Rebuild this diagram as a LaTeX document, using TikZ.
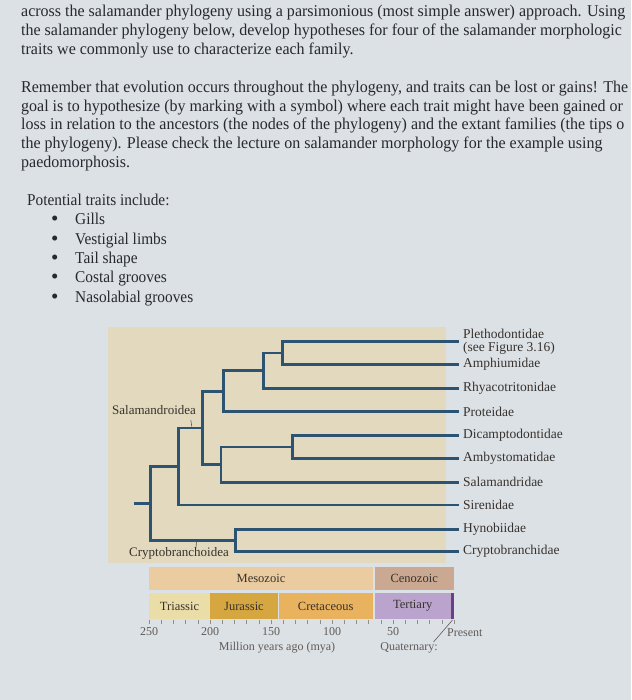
\documentclass[tikz,border=0pt]{standalone}
\usepackage{fontspec}
\setmainfont{Liberation Serif}
\newfontfamily\parafont[FakeStretch=0.97]{Liberation Serif}
\newfontfamily\listfont[FakeStretch=0.93]{Liberation Serif}
\usetikzlibrary{positioning}
\definecolor{pagebg}{RGB}{220,225,230}
\definecolor{ink}{RGB}{40,40,48}
\definecolor{tanbg}{RGB}{226,217,190}
\definecolor{branchblue}{RGB}{44,84,114}
\definecolor{labink}{RGB}{55,50,45}
\definecolor{mesoc}{RGB}{234,204,160}
\definecolor{cenoc}{RGB}{203,168,145}
\definecolor{triac}{RGB}{234,221,168}
\definecolor{jurac}{RGB}{214,166,64}
\definecolor{cretc}{RGB}{233,178,94}
\definecolor{tertc}{RGB}{186,164,206}
\definecolor{quatc}{RGB}{105,62,135}

\begin{document}
\begin{tikzpicture}[x=1pt, y=-1pt,
  paraline/.style={anchor=base west, inner sep=0, text=ink,
                   font=\parafont\fontsize{16.5}{19}\selectfont},
  listline/.style={anchor=base west, inner sep=0, text=ink,
                   font=\listfont\fontsize{16.5}{19}\selectfont},
  taxon/.style={anchor=west, inner sep=0, outer xsep=5pt, align=left, text=labink,
                font=\fontsize{13.5}{13}\selectfont},
  clade/.style={anchor=base west, inner sep=0, text=labink, font=\fontsize{13}{13}\selectfont},
  era/.style={inner sep=0, text=labink, font=\fontsize{12.5}{13}\selectfont},
  tick/.style={inner sep=0, text=labink!80, font=\fontsize{12}{12}\selectfont},
  branch/.style={draw=branchblue, line width=2.8pt, line cap=rect},
  pointer/.style={draw=labink!80, line width=0.6pt},
]
\useasboundingbox (0,0) rectangle (631,700);
\clip (0,0) rectangle (631,700);
\fill[pagebg] (0,0) rectangle (631,700);

% Instructions
\node[paraline] (p1) at (21,16.2) {across the salamander phylogeny using a parsimonious (most simple answer) approach. Using};
\node[paraline] (p2) at (21,35.3) {the salamander phylogeny below, develop hypotheses for four of the salamander morphologic};
\node[paraline] (p3) at (21,54.5) {traits we commonly use to characterize each family.};

\node[paraline] (q1) at (21,92.3) {Remember that evolution occurs throughout the phylogeny, and traits can be lost or gains! The};
\node[paraline] (q2) at (21,111.2) {goal is to hypothesize (by marking with a symbol) where each trait might have been gained or};
\node[paraline] (q3) at (21,130) {loss in relation to the ancestors (the nodes of the phylogeny) and the extant families (the tips o};
\node[paraline] (q4) at (21,148.8) {the phylogeny). Please check the lecture on salamander morphology for the example using};
\node[paraline] (q5) at (21,167.5) {paedomorphosis.};

% Trait list
\node[listline] (traits) at (27,206) {Potential traits include:};
\foreach \y/\txt [count=\i] in {224.3/Gills, 244/Vestigial limbs, 263.3/Tail shape,
                                282.7/Costal grooves, 302.3/Nasolabial grooves}{
  \node[listline, font=\fontsize{21}{19}\selectfont] (dot\i) at (51,\y+1) {\textbullet};
  \node[listline] (item\i) at (75,\y) {\txt};
}

% Tree panel
\fill[tanbg] (108,327) rectangle (446,563);

% Tip labels
\node[taxon] (pleth) at (458,341.7) {Plethodontidae\\(see Figure 3.16)};
\node[taxon] (amph)  at (458,364.3) {Amphiumidae};
\node[taxon] (rhya)  at (458,388.3) {Rhyacotritonidae};
\node[taxon] (prot)  at (458,411.7) {Proteidae};
\node[taxon] (dica)  at (458,435.7) {Dicamptodontidae};
\node[taxon] (amby)  at (458,458.3) {Ambystomatidae};
\node[taxon] (sala)  at (458,482.3) {Salamandridae};
\node[taxon] (sire)  at (458,505)   {Sirenidae};
\node[taxon] (hyno)  at (458,529.3) {Hynobiidae};
\node[taxon] (cryp)  at (458,551.7) {Cryptobranchidae};

% Ancestor nodes
\coordinate (nA) at (282.7,353);
\coordinate (nB) at (263.3,370.7);
\coordinate (nC) at (223.3,391.2);
\coordinate (nD) at (292.3,447);
\coordinate (nE) at (221,464.7);
\coordinate (nF) at (202.7,428);
\coordinate (nG) at (178.7,466.5);
\coordinate (nH) at (235.7,540.5);
\coordinate (root) at (150.7,503.5);
\coordinate (stem) at (135,503.5);

% Branches
\draw[branch] (nA) |- (pleth.west);
\draw[branch] (nA) |- (amph.west);
\draw[branch] (nB) |- (nA);
\draw[branch] (nB) |- (rhya.west);
\draw[branch] (nC) |- (nB);
\draw[branch] (nC) |- (prot.west);
\draw[branch] (nD) |- (dica.west);
\draw[branch] (nD) |- (amby.west);
\draw[branch] (nE) |- (nD);
\draw[branch] (nE) |- (sala.west);
\draw[branch] (nF) |- (nC);
\draw[branch] (nF) |- (nE);
\draw[branch] (nG) |- (nF);
\draw[branch] (nG) |- (sire.west);
\draw[branch] (nH) |- (hyno.west);
\draw[branch] (nH) |- (cryp.west);
\draw[branch] (root) |- (nG);
\draw[branch] (root) |- (nH);
\draw[branch] (stem) -- (root);

% Clade names
\node[clade] (salamandroidea) at (112,414) {Salamandroidea};
\node[clade] (cryptobranchoidea) at (129,556.7) {Cryptobranchoidea};
\coordinate (sTop) at (190.8,420);
\coordinate (sBot) at (191.8,426.5);
\coordinate (cTop) at (196.5,542);
\coordinate (cBot) at (196,547.5);
\draw[pointer] (sTop) -- (sBot);
\draw[pointer] (cTop) -- (cBot);

% Geologic time bars
\fill[mesoc] (149,567) rectangle (373,590);
\fill[cenoc] (374.5,567) rectangle (454,590);
\fill[triac] (149,593) rectangle (210,619);
\fill[jurac] (210,593) rectangle (277.5,619);
\fill[cretc] (278.5,593) rectangle (373,619);
\fill[tertc] (374.5,593) rectangle (451,619);
\fill[quatc] (451,593) rectangle (454,619);

\node[era] (mesozoic)   at (261,578.5)   {Mesozoic};
\node[era] (cenozoic)   at (414.2,578.5) {Cenozoic};
\node[era] (triassic)   at (179.5,606)   {Triassic};
\node[era] (jurassic)   at (244,606)     {Jurassic};
\node[era] (cretaceous) at (325.7,606)   {Cretaceous};
\node[era] (tertiary)   at (412.7,606)   {Tertiary};

% Time axis
\foreach \t in {0,10,...,250}
  \draw[labink!55, line width=0.6pt] ({454-1.22*\t},619.5) -- ({454-1.22*\t},624);
\foreach \t in {250,200,150,100,50}
  \node[tick] (mya\t) at ({454-1.22*\t},632) {\t};
\node[tick] (myalabel) at (277,648) {Million years ago (mya)};
\node[tick] (quaternary) at (409,648) {Quaternary:};
\node[tick, anchor=west] (present) at (447,633) {Present};
\coordinate (qTip) at (452.5,620);
\coordinate (qFoot) at (433.5,642);
\draw[pointer] (qFoot) -- (qTip);
\end{tikzpicture}
\end{document}
